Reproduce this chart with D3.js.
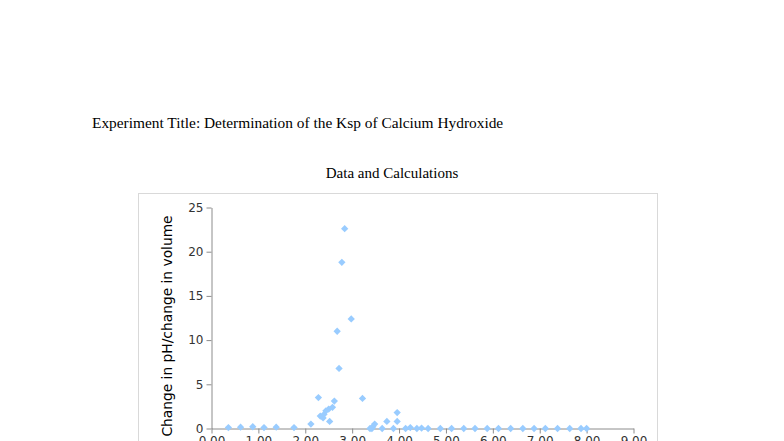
<!DOCTYPE html>
<html><head><meta charset="utf-8">
<script src="https://cdn.jsdelivr.net/npm/d3@7"></script>
<style>body{margin:0;background:#fff;overflow:hidden}</style>
</head><body>
<script>
// Volume (x) and change in pH / change in volume (y)
const volumes = [0.36,0.62,0.88,1.12,1.38,1.76,2.12,2.28,2.32,2.38,2.40,2.44,2.50,2.52,2.58,2.62,2.68,2.72,2.78,2.84,2.98,3.22,
  3.38,3.42,3.44,3.48,3.64,3.74,3.88,3.96,3.96,4.14,4.24,4.38,4.48,4.62,4.88,5.12,5.38,5.62,5.88,6.12,6.38,6.64,6.88,7.12,7.38,7.64,7.88,8.00];
const slopes = [0.1,0.15,0.2,0.1,0.15,0.1,0.5,3.5,1.4,1.2,1.6,2.0,2.2,0.8,2.4,3.1,11.0,6.8,18.8,22.6,12.4,3.4,
  0,0,0.2,0.5,0,0.8,0,1.8,0.8,0,0.1,0,0.05,0,0,0,0,0,0,0,0,0,0,0,0,0,0,0];
const xTicks = [0,1,2,3,4,5,6,7,8,9];
const yTicks = [0,5,10,15,20,25];

const svg = d3.select("body").append("svg").attr("width",784).attr("height",441);

svg.append("text").attr("x",92).attr("y",128)
  .style("font-family","Liberation Serif").style("font-size","15.4px")
  .text("Experiment Title: Determination of the Ksp of Calcium Hydroxide");
svg.append("text").attr("x",392).attr("y",178).attr("text-anchor","middle")
  .style("font-family","Liberation Serif").style("font-size","15px")
  .text("Data and Calculations");

// chart frame
svg.append("rect").attr("x",138.5).attr("y",193.5).attr("width",519).attr("height",300)
  .attr("fill","none").attr("stroke","#d9d9d9");

const x = d3.scaleLinear().domain([0,9]).range([211.5,633.5]);
const y = d3.scaleLinear().domain([0,25]).range([428.5,207.5]);

const xa = svg.append("g").attr("transform","translate(0,428.5)")
  .call(d3.axisBottom(x).tickValues(xTicks).tickSize(5).tickSizeOuter(0).tickFormat(d3.format(".2f")));
const ya = svg.append("g").attr("transform","translate(211.5,0)")
  .call(d3.axisLeft(y).tickValues(yTicks).tickSize(5).tickSizeOuter(0));
[xa,ya].forEach(a => {
  a.selectAll("path,line").attr("stroke","#8c8c8c");
  a.selectAll("text").attr("fill","#333").style("font-family","DejaVu Sans").style("font-size","12px");
});

svg.append("text").attr("transform","translate(172,326) rotate(-90)").attr("text-anchor","middle")
  .style("font-family","DejaVu Sans").style("font-size","13.8px")
  .text("Change in pH/change in volume");

svg.append("g").selectAll("path").data(volumes).enter().append("path")
  .attr("d", d3.symbol(d3.symbolDiamond2, 34))
  .attr("transform",(d,i) => "translate(" + x(d) + "," + y(slopes[i]) + ")")
  .attr("fill","#99ccff");
</script>
</body></html>
